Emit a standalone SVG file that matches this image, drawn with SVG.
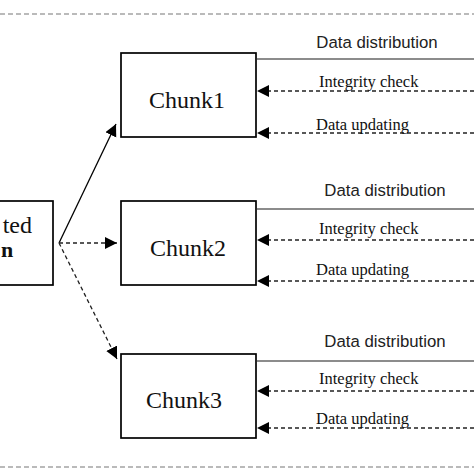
<svg xmlns="http://www.w3.org/2000/svg" width="474" height="474" viewBox="0 0 474 474">
<defs>
<marker id="ah" markerUnits="userSpaceOnUse" markerWidth="13" markerHeight="13" refX="12" refY="6" orient="auto">
<path d="M0,0 L12,6 L0,12 z" fill="#000"/>
</marker>
<style>
.box{fill:#fff;stroke:#000;stroke-width:1.7}
.lbl{font-family:"Liberation Serif","Times New Roman",serif;font-size:24px;fill:#111;text-anchor:middle}
.ser{font-family:"Liberation Serif","Times New Roman",serif;font-size:16.5px;fill:#111}
.dd{font-family:"Liberation Sans",Arial,sans-serif;font-size:16.8px;fill:#222;text-anchor:middle}
.sol{stroke:#666;stroke-width:1.4;fill:none}
.dsh{stroke:#222;stroke-width:1.3;stroke-dasharray:4,3;fill:none}
.frame{stroke:#777;stroke-width:1.2;stroke-dasharray:5,3;fill:none}
</style>
</defs>
<rect width="474" height="474" fill="#fff"/>
<g id="frame">
<line class="frame" x1="0" y1="14" x2="474" y2="14"/>
<line class="frame" x1="0" y1="467" x2="474" y2="467"/>
</g>
<g id="source">
<rect class="box" x="-20" y="201" width="73" height="84"/>
<text class="lbl" x="32" y="233" style="text-anchor:end">ted</text>
<text class="lbl" x="1" y="257" style="text-anchor:start;font-weight:bold;font-size:22px">n</text>
</g>
<g id="chunk1">
<rect class="box" x="121" y="53" width="135" height="84"/>
<text class="lbl" x="187" y="108">Chunk1</text>
</g>
<g id="chunk2">
<rect class="box" x="121" y="201" width="135" height="84"/>
<text class="lbl" x="188" y="256">Chunk2</text>
</g>
<g id="chunk3">
<rect class="box" x="121" y="354" width="135" height="84"/>
<text class="lbl" x="184" y="408">Chunk3</text>
</g>
<g id="connectors">
<line x1="59" y1="243" x2="116" y2="124" stroke="#000" stroke-width="1.3" marker-end="url(#ah)"/>
<line class="dsh" x1="59" y1="243" x2="117" y2="243" marker-end="url(#ah)"/>
<line class="dsh" x1="59" y1="243" x2="117" y2="359" marker-end="url(#ah)"/>

<line class="sol" x1="257" y1="59" x2="474" y2="59"/>
<line class="dsh" x1="474" y1="91" x2="257" y2="91" marker-end="url(#ah)"/>
<line class="dsh" x1="474" y1="133" x2="257" y2="133" marker-end="url(#ah)"/>

<line class="sol" x1="257" y1="209" x2="474" y2="209"/>
<line class="dsh" x1="474" y1="240" x2="257" y2="240" marker-end="url(#ah)"/>
<line class="dsh" x1="474" y1="281" x2="257" y2="281" marker-end="url(#ah)"/>

<line class="sol" x1="257" y1="361" x2="474" y2="361"/>
<line class="dsh" x1="474" y1="391" x2="257" y2="391" marker-end="url(#ah)"/>
<line class="dsh" x1="474" y1="428" x2="257" y2="428" marker-end="url(#ah)"/>
</g>
<g id="labels">
<text class="dd" x="377" y="48">Data distribution</text>
<text class="ser" x="319" y="87">Integrity check</text>
<text class="ser" x="316" y="130">Data updating</text>
<text class="dd" x="385" y="196">Data distribution</text>
<text class="ser" x="319" y="234">Integrity check</text>
<text class="ser" x="316" y="275">Data updating</text>
<text class="dd" x="385" y="347">Data distribution</text>
<text class="ser" x="319" y="384">Integrity check</text>
<text class="ser" x="316" y="424">Data updating</text>
</g>
</svg>
